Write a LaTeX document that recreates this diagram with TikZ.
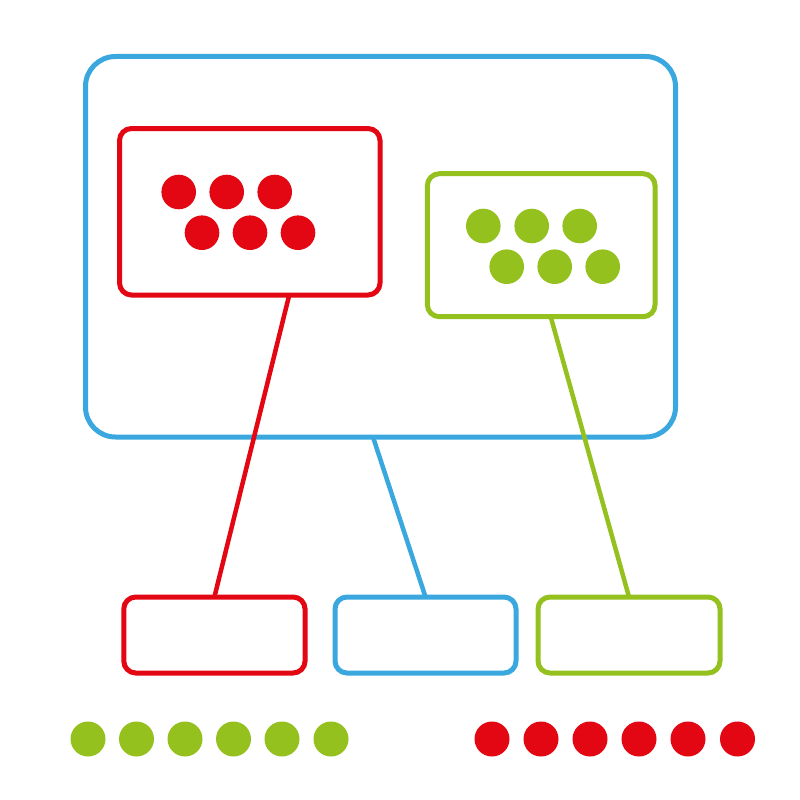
\documentclass[tikz,border=0pt]{standalone}
\usetikzlibrary{calc}
\definecolor{cred}{HTML}{E30613}
\definecolor{cblue}{HTML}{3AA8DF}
\definecolor{cgreen}{HTML}{95C11F}
\begin{document}
\begin{tikzpicture}[x=1pt,y=-1pt,
  frame/.style={draw=#1,line width=5pt,rectangle,inner sep=0pt,outer sep=0pt},
  link/.style={draw=#1,line width=4.5pt},
  dot/.style={fill=#1}]
\useasboundingbox[fill=white] (0,0) rectangle (800,800);
% main box
\node[frame=cblue,rounded corners=30pt,minimum width=590pt,minimum height=380.5pt] (main) at (380.5,246.75) {};
% inner boxes
\node[frame=cred,rounded corners=12pt,minimum width=260.5pt,minimum height=166.5pt] (redbox) at (249.75,211.75) {};
\node[frame=cgreen,rounded corners=12pt,minimum width=227.7pt,minimum height=143pt] (greenbox) at (541.2,245.2) {};
% bottom boxes
\node[frame=cred,rounded corners=12pt,minimum width=181.3pt,minimum height=76pt] (rb) at (214.4,635) {};
\node[frame=cblue,rounded corners=12pt,minimum width=181pt,minimum height=76pt] (bb) at (425.5,635) {};
\node[frame=cgreen,rounded corners=12pt,minimum width=182pt,minimum height=76pt] (gb) at (629,635) {};
% connectors
\draw[link=cred] ($(redbox.south)+(39.5,0)$) -- (rb.north);
\draw[link=cblue] ($(main.south)+(-7.5,0)$) -- (bb.north);
\draw[link=cgreen] ($(greenbox.south)+(9.5,0)$) -- ($(gb.north)+(0,0)$);
% dots in red box
\foreach \x/\y in {178.7/192,226.7/192,274.7/192,202/232.7,250/232.7,298/232.7}
  \fill[dot=cred] (\x,\y) circle (17.3pt);
% dots in green box
\foreach \x/\y in {483.3/226,531.7/226,579.7/226,506.7/266.7,554.7/266.7,602.7/266.7}
  \fill[dot=cgreen] (\x,\y) circle (17.3pt);
% bottom dot rows
\foreach \x in {88,136.5,185,233.5,282,331}
  \fill[dot=cgreen] (\x,739) circle (17.5pt);
\foreach \x in {492,541,590,639,688,737.5}
  \fill[dot=cred] (\x,739) circle (17.5pt);
\end{tikzpicture}
\end{document}
